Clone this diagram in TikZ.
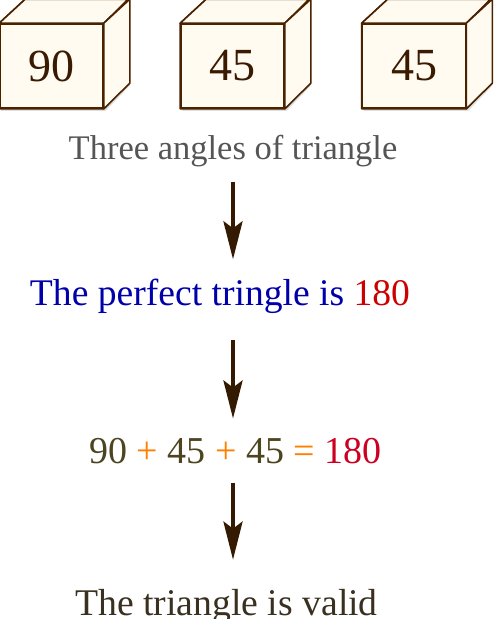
\documentclass[tikz,border=0pt]{standalone}
\usepackage{fontspec}
\setmainfont{Liberation Serif}
\usetikzlibrary{arrows.meta,positioning,shadows}
\definecolor{boxline}{HTML}{4A2200}
\definecolor{boxfill}{HTML}{FFFBF0}
\definecolor{angtext}{HTML}{3A1A00}
\definecolor{capgray}{HTML}{555555}
\definecolor{perfblue}{HTML}{0000AA}
\definecolor{perfred}{HTML}{CC0000}
\definecolor{sumdark}{HTML}{4D4520}
\definecolor{sumorange}{HTML}{FF8000}
\definecolor{sumred}{HTML}{CC0022}
\definecolor{validdark}{HTML}{3A3020}
\definecolor{arrowbrown}{HTML}{331A00}

\begin{document}
\begin{tikzpicture}[x=1pt,y=-1pt,
	cube/.style={draw=boxline,fill=boxfill,line width=1.6pt,minimum width=103pt,minimum height=84pt,inner sep=0pt,text=angtext,font=\fontsize{46}{50}\selectfont},
	face/.style={draw=boxline,fill=boxfill,line width=1.6pt,line join=round},
	caption/.style={inner sep=0pt,anchor=base},
	flow/.style={draw=arrowbrown,line width=4pt,-{Stealth[length=38pt,width=19pt,inset=7pt]}}]
	\useasboundingbox (0,0) rectangle (498,619);
	% the three angle boxes
	\node[cube] (b1) at (51.5,66) {90};
	\node[cube] (b2) at (232.5,66) {45};
	\node[cube] (b3) at (414,66) {45};
	\foreach \b in {b1,b2,b3}{
		\path[face,drop shadow={shadow xshift=2pt,shadow yshift=-2pt,opacity=0.25}] (\b.north west) -- ++(26,-24) -- ++(103,0) -- ++(0,84) -- (\b.south east) -- (\b.south west) -- cycle;
		\path[face] (\b.north west) -- ++(26,-24) -- ++(103,0) -- (\b.north east) -- cycle;
		\path[face] (\b.north east) -- ++(26,-24) -- ++(0,84) -- (\b.south east) -- cycle;
	}
	\node[cube] at (b1) {90};
	\node[cube] at (b2) {45};
	\node[cube] at (b3) {45};
	% captions
	\node[caption,text=capgray,font=\fontsize{34.5}{40}\selectfont] (t1) at (233,159) {Three angles of triangle};
	\node[caption,font=\fontsize{37.6}{44}\selectfont] (t2) at (220,305) {\textcolor{perfblue}{The perfect tringle is} \textcolor{perfred}{180}};
	\node[caption,text=sumdark,font=\fontsize{38}{44}\selectfont] (t3) at (235.5,463) {90 \textcolor{sumorange}{+} 45 \textcolor{sumorange}{+} 45 \textcolor{sumorange}{=} \textcolor{sumred}{180}};
	\node[caption,text=validdark,font=\fontsize{37.7}{44}\selectfont] (t4) at (226.5,615) {The triangle is valid};
	% arrows
	\draw[flow,shorten <=15pt,shorten >=19pt] (t1.south) -- (t1.south |- t2.north);
	\draw[flow,shorten <=27pt,shorten >=19pt] (t1.south |- t2.south) -- (t1.south |- t3.north);
	\draw[flow,shorten <=19pt,shorten >=29pt] (t1.south |- t3.south) -- (t1.south |- t4.north);
\end{tikzpicture}
\end{document}
